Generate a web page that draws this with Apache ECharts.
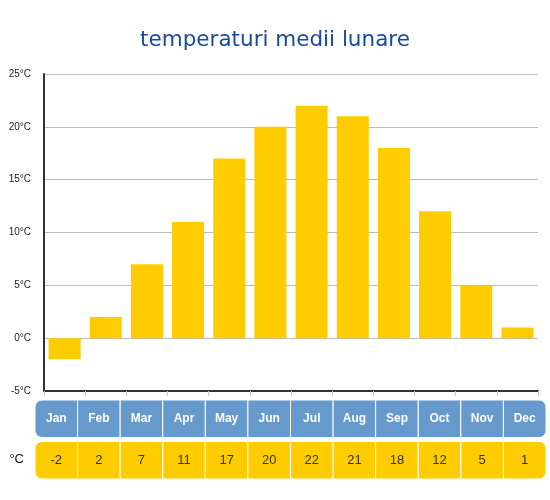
<!DOCTYPE html>
<html>
<head>
<meta charset="utf-8">
<script src="https://cdn.jsdelivr.net/npm/echarts@6/dist/echarts.min.js"></script>
<style>
  html, body { margin: 0; padding: 0; background: #fff; }
  #chart { width: 550px; height: 500px; }
</style>
</head>
<body>
<div id="chart"></div>
<script>
// luni si temperaturi medii
const months = ["Jan", "Feb", "Mar", "Apr", "May", "Jun", "Jul", "Aug", "Sep", "Oct", "Nov", "Dec"];
const temps = [-2, 2, 7, 11, 17, 20, 22, 21, 18, 12, 5, 1];
const tableRows = ["", "°C"];

const chart = echarts.init(document.getElementById("chart"));

// celule tabel: [luna, rand]
const cells = [];
months.forEach((m, i) => {
  cells.push([i, 0]);
  cells.push([i, 1]);
});

function renderCell(params, api) {
  const i = api.value(0);
  const row = api.value(1);
  const c = api.coord([i, row]);
  const s = api.size([1, 1]);
  const w = s[0];
  const h = s[1];
  const x0 = c[0] - w / 2;
  let y0 = c[1] - h / 2;
  const hh = h - 2;
  if (row === 1) y0 += 2;
  let r = 0;
  if (i === 0) r = [7, 0, 0, 7];
  if (i === months.length - 1) r = [0, 7, 7, 0];
  const isHead = row === 0;
  return {
    type: "group",
    children: [
      {
        type: "rect",
        shape: { x: x0, y: y0, width: w, height: hh, r: r },
        style: { fill: isHead ? "#6699CC" : "#FFCC00", stroke: "#fff", lineWidth: 1 },
      },
      {
        type: "text",
        style: {
          text: isHead ? months[i] : String(temps[i]),
          x: c[0],
          y: y0 + hh / 2,
          align: "center",
          verticalAlign: "middle",
          fill: isHead ? "#fff" : "#333",
          fontSize: isHead ? 12 : 13,
          fontWeight: isHead ? "bold" : "normal",
          fontFamily: "Liberation Sans, Arial, sans-serif",
        },
      },
    ],
  };
}

const option = {
  backgroundColor: "#fff",
  animation: false,
  title: {
    text: "temperaturi medii lunare",
    left: "center",
    top: 24,
    textStyle: {
      color: "#1a4a9c",
      fontSize: 21.5,
      fontWeight: "normal",
      fontFamily: "DejaVu Sans, Verdana, sans-serif",
    },
  },
  grid: [
    { left: 44, right: 12, top: 74, bottom: 109 },
    { left: 35, right: 4, top: 400, height: 79 },
  ],
  xAxis: [
    {
      type: "category",
      data: months,
      gridIndex: 0,
      axisLine: { onZero: false, lineStyle: { color: "#333", width: 2 } },
      axisTick: { show: true, length: 5, lineStyle: { color: "#ccc" } },
      axisLabel: { show: false },
      splitLine: { show: false },
    },
    {
      type: "category",
      data: months,
      gridIndex: 1,
      show: false,
    },
  ],
  yAxis: [
    {
      type: "value",
      gridIndex: 0,
      min: -5,
      max: 25,
      interval: 5,
      axisLine: { show: true, lineStyle: { color: "#333", width: 2 } },
      axisTick: { show: false },
      axisLabel: {
        formatter: "{value}°C",
        color: "#222",
        fontSize: 10,
        margin: 13,
        fontFamily: "Liberation Sans, Arial, sans-serif",
      },
      splitLine: { lineStyle: { color: "#bbb", width: 1 } },
    },
    {
      type: "category",
      data: tableRows,
      gridIndex: 1,
      inverse: true,
      axisLine: { show: false },
      axisTick: { show: false },
      axisLabel: {
        color: "#111",
        fontSize: 13,
        margin: 11,
        fontFamily: "Liberation Sans, Arial, sans-serif",
      },
      splitLine: { show: false },
    },
  ],
  series: [
    {
      type: "bar",
      data: temps,
      xAxisIndex: 0,
      yAxisIndex: 0,
      barWidth: 32,
      itemStyle: { color: "#FFCC00" },
    },
    {
      type: "custom",
      xAxisIndex: 1,
      yAxisIndex: 1,
      data: cells,
      renderItem: renderCell,
    },
  ],
};

chart.setOption(option);
</script>
</body>
</html>
